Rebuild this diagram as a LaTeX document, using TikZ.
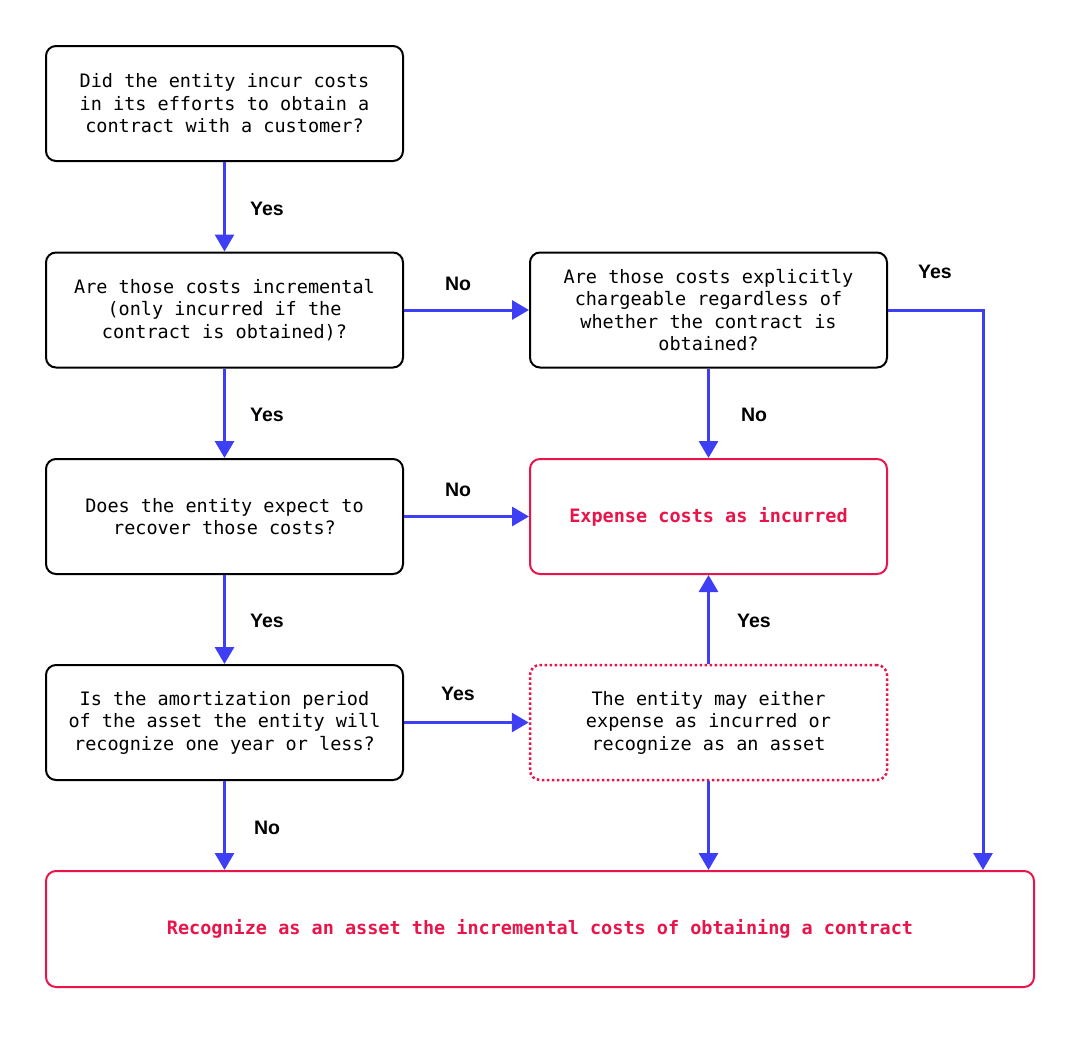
\documentclass[tikz,border=0pt]{standalone}
\usepackage{fontspec}
\setmonofont{DejaVu Sans Mono}
\setsansfont{Liberation Sans}
\usetikzlibrary{arrows.meta}
\definecolor{flowblue}{RGB}{62,62,245}
\definecolor{flowred}{RGB}{232,20,74}

\begin{document}
\begin{tikzpicture}[x=1pt, y=-1pt,
    question/.style={draw, line width=2pt, rounded corners=10pt, minimum width=357pt, minimum height=115pt,
      inner sep=0pt, align=center, font=\ttfamily\fontsize{18.5}{22.5}\selectfont},
    outcome/.style={question, draw=flowred, text=flowred, font=\ttfamily\bfseries\fontsize{18.5}{22.5}\selectfont},
    flow/.style={draw=flowblue, line width=3pt, -{Triangle[length=17pt, width=19pt]}},
    answer/.style={font=\sffamily\bfseries\fontsize{19.5}{21}\selectfont}]
  \useasboundingbox (0,0) rectangle (1086,1036);

  % Questions on the left
  \node[question] (incur) at (224.5,103.5) {Did the entity incur costs\\in its efforts to obtain a\\contract with a customer?};
  \node[question] (incremental) at (224.5,310) {Are those costs incremental\\(only incurred if the\\contract is obtained)?};
  \node[question] (recover) at (224.5,516.5) {Does the entity expect to\\recover those costs?};
  \node[question] (period) at (224.5,722.5) {Is the amortization period\\of the asset the entity will\\recognize one year or less?};

  % Right column
  \node[question] (chargeable) at (708.5,310) {Are those costs explicitly\\chargeable regardless of\\whether the contract is\\obtained?};
  \node[outcome] (expense) at (708.5,516.5) {Expense costs as incurred};
  \node[question, draw=flowred, dash pattern=on 2.5pt off 2.5pt, line width=2.5pt] (either) at (708.5,722.5) {The entity may either\\expense as incurred or\\recognize as an asset};

  % Bottom outcome
  \node[outcome, minimum width=988pt, minimum height=116pt] (asset) at (540,929) {Recognize as an asset the incremental costs of obtaining a contract};

  % Arrows
  \coordinate (bend) at (983,0);
  \draw[flow] (incur) -- (incremental);
  \draw[flow] (incremental) -- (recover);
  \draw[flow] (recover) -- (period);
  \draw[flow] (period.south) -- (period.south |- asset.north);
  \draw[flow] (incremental) -- (chargeable);
  \draw[flow] (recover) -- (expense);
  \draw[flow] (period) -- (either);
  \draw[flow] (chargeable) -- (expense);
  \draw[flow] (either) -- (expense);
  \draw[flow] (either.south) -- (either.south |- asset.north);
  \draw[flow] (chargeable.east) -| (bend |- asset.north);

  % Answers
  \node[answer] (yes1) at (267,209) {Yes};
  \node[answer] (yes2) at (267,415) {Yes};
  \node[answer] (yes3) at (267,621) {Yes};
  \node[answer] (no1) at (267,828) {No};
  \node[answer] (no2) at (458,284) {No};
  \node[answer] (no3) at (458,490) {No};
  \node[answer] (yes4) at (458,694) {Yes};
  \node[answer] (no4) at (754,415) {No};
  \node[answer] (yes5) at (754,621) {Yes};
  \node[answer] (yes6) at (935,272) {Yes};
\end{tikzpicture}
\end{document}
